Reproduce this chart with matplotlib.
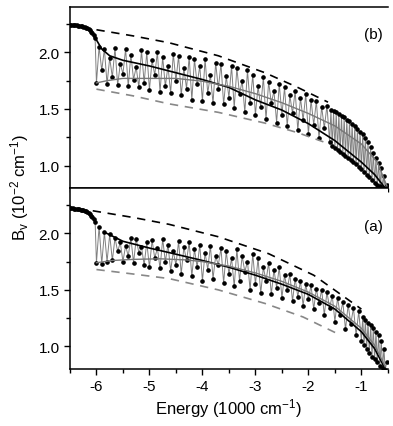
import matplotlib
matplotlib.use("Agg")
import matplotlib.pyplot as plt
from matplotlib.ticker import MultipleLocator

plt.rcParams['font.family'] = ['Liberation Sans', 'DejaVu Sans']
plt.rcParams['mathtext.default'] = 'regular'

# ---- shared start (dense points on the plateau) ----
start_e = [-6.5, -6.475, -6.45, -6.425, -6.4, -6.375, -6.35, -6.325, -6.3, -6.275,
           -6.25, -6.225, -6.2, -6.175, -6.15, -6.125, -6.1, -6.075, -6.05, -6.025]
start_b_top = [2.245, 2.244, 2.243, 2.242, 2.240, 2.238, 2.236, 2.234, 2.232, 2.229,
               2.226, 2.222, 2.217, 2.211, 2.204, 2.195, 2.183, 2.168, 2.150, 2.125]
start_b_bot = [2.225, 2.224, 2.222, 2.220, 2.218, 2.216, 2.214, 2.212, 2.210, 2.207,
               2.204, 2.200, 2.195, 2.189, 2.181, 2.171, 2.158, 2.143, 2.125, 2.105]

# ---- panel (b): zigzag levels ----
zig_e_top = [-6.00, -5.95, -5.90, -5.85, -5.80, -5.75, -5.70, -5.65, -5.60, -5.55,
             -5.50, -5.45, -5.40, -5.35, -5.30, -5.25, -5.20, -5.15, -5.10, -5.05,
             -5.00, -4.95, -4.90, -4.85, -4.80, -4.75, -4.70, -4.65, -4.60, -4.55,
             -4.50, -4.45, -4.40, -4.35, -4.30, -4.25, -4.20, -4.15, -4.10, -4.05,
             -4.00, -3.95, -3.90, -3.85, -3.80, -3.75, -3.70, -3.65, -3.60, -3.55,
             -3.50, -3.45, -3.40, -3.35, -3.30, -3.25, -3.20, -3.15, -3.10, -3.05,
             -3.00, -2.95, -2.90, -2.85, -2.80, -2.75, -2.70, -2.65, -2.60, -2.55,
             -2.50, -2.45, -2.40, -2.35, -2.30, -2.25, -2.20, -2.15, -2.10, -2.05,
             -2.00, -1.95, -1.90, -1.85, -1.80, -1.75, -1.70, -1.65, -1.60,
             -1.575, -1.55, -1.525, -1.50, -1.475, -1.45, -1.425, -1.40, -1.375, -1.35,
             -1.325, -1.30, -1.275, -1.25, -1.225, -1.20, -1.175, -1.15, -1.125, -1.10,
             -1.075, -1.05, -1.025, -1.00, -0.975, -0.95, -0.925, -0.90, -0.875, -0.85,
             -0.825, -0.80, -0.775, -0.75, -0.725, -0.70, -0.675, -0.65, -0.625, -0.60,
             -0.575, -0.55, -0.525]
zig_b_top = [1.73, 2.05, 1.84, 2.03, 1.72, 1.95, 1.78, 2.04, 1.71, 1.90,
             1.81, 2.03, 1.70, 1.98, 1.76, 1.87, 1.69, 2.02, 1.73, 2.00,
             1.67, 1.93, 1.80, 2.00, 1.65, 1.96, 1.70, 1.88, 1.64, 1.99,
             1.75, 1.97, 1.62, 1.86, 1.68, 1.96, 1.58, 1.94, 1.72, 1.88,
             1.57, 1.94, 1.64, 1.80, 1.55, 1.91, 1.68, 1.90, 1.54, 1.79,
             1.60, 1.88, 1.51, 1.86, 1.63, 1.75, 1.47, 1.84, 1.55, 1.80,
             1.45, 1.70, 1.52, 1.78, 1.41, 1.74, 1.55, 1.66, 1.38, 1.72,
             1.45, 1.69, 1.35, 1.62, 1.46, 1.66, 1.31, 1.60, 1.40, 1.63,
             1.28, 1.58, 1.36, 1.57, 1.24, 1.52, 1.33, 1.53, 1.21,
             1.49, 1.17, 1.48, 1.155, 1.47, 1.14, 1.455, 1.12, 1.44, 1.10,
             1.425, 1.085, 1.405, 1.07, 1.39, 1.05, 1.37, 1.03, 1.35, 1.01,
             1.325, 0.99, 1.30, 0.97, 1.275, 0.945, 1.245, 0.92, 1.21, 0.895,
             1.165, 0.87, 1.115, 0.85, 1.065, 0.83, 1.02, 0.815, 0.975, 0.80,
             0.91, 0.79, 0.83]

# ---- panel (a): zigzag levels ----
zig_e_bot = [-6.00, -5.95, -5.90, -5.85, -5.80, -5.75, -5.70, -5.65, -5.60, -5.55,
             -5.50, -5.45, -5.40, -5.35, -5.30, -5.25, -5.20, -5.15, -5.10, -5.05,
             -5.00, -4.95, -4.90, -4.85, -4.80, -4.75, -4.70, -4.65, -4.60, -4.55,
             -4.50, -4.45, -4.40, -4.35, -4.30, -4.25, -4.20, -4.15, -4.10, -4.05,
             -4.00, -3.95, -3.90, -3.85, -3.80, -3.75, -3.70, -3.65, -3.60, -3.55,
             -3.50, -3.45, -3.40, -3.35, -3.30, -3.25, -3.20, -3.15, -3.10, -3.05,
             -3.00, -2.95, -2.90, -2.85, -2.80, -2.75, -2.70, -2.65, -2.60, -2.55,
             -2.50, -2.45, -2.40, -2.35, -2.30, -2.25, -2.20, -2.15, -2.10, -2.05,
             -2.00, -1.95, -1.90, -1.85, -1.80, -1.75, -1.70, -1.65, -1.60, -1.55,
             -1.50, -1.45, -1.40, -1.35, -1.30, -1.25, -1.20, -1.15, -1.10, -1.05,
             -1.00, -0.975, -0.95, -0.925, -0.90, -0.875, -0.85, -0.825, -0.80, -0.775,
             -0.75, -0.725, -0.70, -0.675, -0.65, -0.625, -0.60, -0.575, -0.55, -0.525]
zig_b_bot = [1.74, 2.06, 1.73, 2.01, 1.75, 1.99, 1.76, 1.96, 1.84, 1.92,
             1.75, 1.89, 1.80, 1.96, 1.74, 1.95, 1.83, 1.88, 1.72, 1.92,
             1.70, 1.94, 1.78, 1.87, 1.69, 1.95, 1.75, 1.90, 1.67, 1.84,
             1.72, 1.93, 1.64, 1.88, 1.76, 1.92, 1.62, 1.86, 1.70, 1.90,
             1.58, 1.83, 1.68, 1.89, 1.60, 1.80, 1.72, 1.87, 1.56, 1.84,
             1.64, 1.78, 1.53, 1.86, 1.58, 1.80, 1.66, 1.75, 1.50, 1.82,
             1.55, 1.78, 1.47, 1.70, 1.58, 1.74, 1.46, 1.68, 1.52, 1.70,
             1.43, 1.63, 1.50, 1.64, 1.40, 1.60, 1.44, 1.58, 1.36, 1.55,
             1.42, 1.54, 1.33, 1.51, 1.38, 1.50, 1.28, 1.48, 1.34, 1.45,
             1.22, 1.43, 1.28, 1.39, 1.15, 1.37, 1.20, 1.34, 1.10, 1.31,
             1.05, 1.26, 1.01, 1.23, 0.98, 1.21, 0.94, 1.19, 0.91, 1.16,
             0.89, 1.13, 0.86, 1.10, 0.83, 1.05, 0.81, 0.98, 0.79, 0.86]

# ---- smooth curves ----
mean_e_top = [-6.05, -6.0, -5.9, -5.75, -5.5, -5.0, -4.5, -4.0, -3.5, -3.0, -2.5, -2.0, -1.5, -1.0, -0.75, -0.6, -0.52]
mean_b_top = [2.14, 2.11, 2.03, 1.97, 1.93, 1.88, 1.82, 1.76, 1.69, 1.58, 1.49, 1.37, 1.22, 1.03, 0.92, 0.83, 0.78]
gray_e_top = [-6.0, -5.8, -5.5, -5.0, -4.5, -4.0, -3.5, -3.0, -2.5, -2.0, -1.5, -1.0, -0.7, -0.52]
gray_b_top = [1.73, 1.75, 1.77, 1.77, 1.77, 1.745, 1.70, 1.635, 1.555, 1.46, 1.35, 1.19, 1.03, 0.82]

mean_e_bot = [-5.85, -5.76, -5.5, -5.0, -4.63, -4.0, -3.5, -3.0, -2.5, -2.0, -1.5, -1.0, -0.75, -0.55]
mean_b_bot = [2.01, 1.99, 1.93, 1.87, 1.83, 1.76, 1.70, 1.63, 1.55, 1.46, 1.33, 1.13, 0.98, 0.80]
gray_e_bot = [-6.0, -5.7, -5.3, -4.8, -4.3, -4.0, -3.5, -3.0, -2.5, -2.0, -1.5, -1.0, -0.75, -0.55]
gray_b_bot = [1.74, 1.76, 1.77, 1.775, 1.765, 1.75, 1.71, 1.65, 1.575, 1.48, 1.355, 1.16, 1.01, 0.82]

# ---- dashed envelopes ----
up_e_top = [-6.0, -5.3, -4.63, -3.7, -2.82, -2.2, -1.63]
up_b_top = [2.2, 2.145, 2.085, 1.97, 1.82, 1.69, 1.56]
lo_e_top = [-6.0, -5.3, -4.63, -3.7, -2.82, -2.2, -1.6]
lo_b_top = [1.675, 1.615, 1.545, 1.47, 1.375, 1.29, 1.19]

up_e_bot = [-6.07, -5.3, -4.63, -3.7, -2.75, -1.9, -1.0]
up_b_bot = [2.2, 2.14, 2.08, 1.97, 1.82, 1.63, 1.33]
lo_e_bot = [-6.0, -5.3, -4.63, -3.7, -2.82, -2.1, -1.44]
lo_b_bot = [1.68, 1.64, 1.60, 1.50, 1.38, 1.26, 1.11]

fig = plt.figure(figsize=(3.93, 4.27), dpi=100)
ax_top = fig.add_axes([0.178, 0.557, 0.809, 0.424])
ax_bot = fig.add_axes([0.178, 0.1335, 0.809, 0.4235])

panels = [
    (ax_top, start_b_top, zig_e_top, zig_b_top, mean_e_top, mean_b_top, gray_e_top, gray_b_top,
     up_e_top, up_b_top, lo_e_top, lo_b_top, "(b)", 0.85),
    (ax_bot, start_b_bot, zig_e_bot, zig_b_bot, mean_e_bot, mean_b_bot, gray_e_bot, gray_b_bot,
     up_e_bot, up_b_bot, lo_e_bot, lo_b_bot, "(a)", 0.79),
]

for (ax, sb, ze, zb, me, mb, ge, gb, ue, ub, le, lb, tag, ty) in panels:
    # dense plateau + zigzag series
    ax.plot(start_e + ze, sb + zb, color='#808080', lw=0.7, zorder=2)
    ax.plot(start_e + ze, sb + zb, ls='none', marker='o', ms=2.3,
            mfc='black', mec='black', zorder=3)
    ax.plot(me, mb, color='black', lw=1.2, zorder=4)
    ax.plot(ge, gb, color='#777777', lw=1.0, zorder=4)
    ax.plot(ue, ub, color='black', lw=1.2, dashes=(5, 4), zorder=4)
    ax.plot(le, lb, color='#888888', lw=1.2, dashes=(5, 4), zorder=4)

    ax.set_xlim(-6.5, -0.5)
    ax.set_ylim(0.8, 2.4)
    ax.xaxis.set_major_locator(MultipleLocator(1))
    ax.xaxis.set_minor_locator(MultipleLocator(0.5))
    ax.yaxis.set_major_locator(MultipleLocator(0.5))
    ax.yaxis.set_minor_locator(MultipleLocator(0.25))
    ax.spines['right'].set_visible(False)
    for s in ['left', 'bottom', 'top']:
        ax.spines[s].set_linewidth(1.1)
    ax.tick_params(which='major', direction='out', length=4, width=1, labelsize=11)
    ax.tick_params(which='minor', direction='out', length=3, width=1)
    ax.text(0.953, ty, tag, transform=ax.transAxes, ha='center', va='center', fontsize=11)

ax_top.tick_params(axis='x', labelbottom=False)
ax_bot.set_xticks([-6, -5, -4, -3, -2, -1])
ax_bot.set_xticklabels(['-6', '-5', '-4', '-3', '-2', '-1'])

ax_bot.set_xlabel('Energy (1000 cm$^{-1}$)', fontsize=12, labelpad=2)
fig.text(0.05, 0.56, 'B$_v$ (10$^{-2}$ cm$^{-1}$)', rotation=90, ha='center', va='center', fontsize=12)

fig.savefig('out.png', dpi=100)
